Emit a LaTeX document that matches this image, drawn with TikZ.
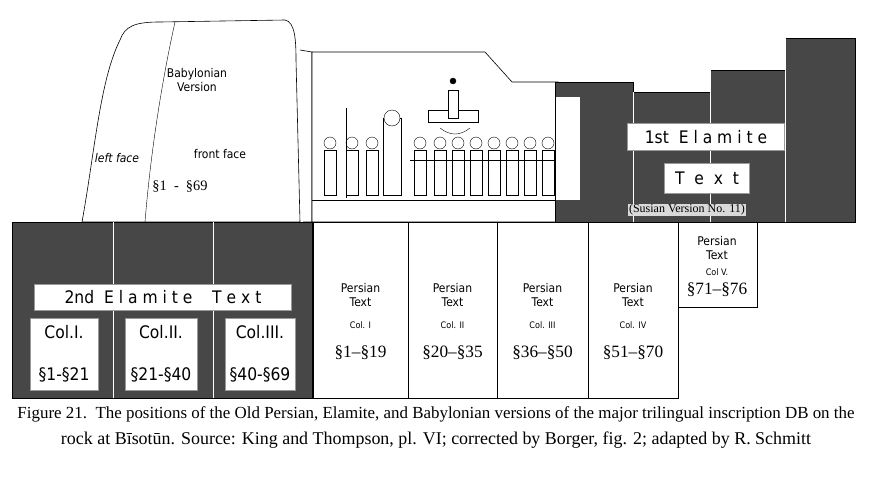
\documentclass[tikz,border=0pt]{standalone}
\usepackage{fontspec}
\setmainfont{Liberation Serif}
\newfontfamily\labfont{DejaVu Sans Condensed}
\usetikzlibrary{positioning}
\tikzset{
  rock/.style = {draw=black, fill=black!72},
  plate/.style = {draw=black, fill=white, line width=0.6pt},
  lab/.style = {font=\labfont\large, align=center, inner sep=1pt},
  bigbox/.style = {fill=white, draw=black!40, font=\labfont\LARGE, inner sep=0pt},
  colbox/.style = {fill=white, draw=black!40, font=\labfont\LARGE, inner sep=0pt, align=center},
  person/.style = {draw=black, fill=white, line width=0.4pt}
}
\begin{document}
\begin{tikzpicture}[x=1pt,y=-1pt]
\useasboundingbox (0,0) rectangle (871,482);
% Babylonian rock
\draw[plate] (82,222) .. controls (95,150) and (100,80) .. (120,40)
  .. controls (125,26) and (135,22) .. (160,22) -- (285,20)
  .. controls (295,22) and (296,40) .. (296,60) -- (300,222) -- cycle;
\draw (175,22) .. controls (160,90) and (150,160) .. (145,222);
\draw[plate] (300,50) -- (312,52) -- (312,222) -- (303,222);
\node[lab] (bab) at (197,80) {Babylonian\\Version};
\node[lab, font=\labfont\large\itshape] (lf) at (117,158) {left face};
\node[lab] (ff) at (220,154) {front face};
\node[font=\Large] (bpar) at (180,187) {\S1\ \ -\ \ \S69};
% relief panel
\draw[plate] (312,52) -- (485,52) -- (512,82) -- (558,82) -- (558,222) -- (312,222) -- cycle;
\draw (312,200) -- (558,200);
\foreach \x in {330,352,372,392,420,440,458,476,494,512,530,548,566} {
  \draw[person] (\x-6,150) rectangle (\x+6,195);
  \draw[person] (\x,143) circle (6);
}
\draw[person] (383,118) rectangle (401,195);
\draw[person] (392,118) circle (8);
\draw (346,108) -- (346,198);
\draw (410,160) -- (570,160);
% winged symbol
\draw[person] (428,110) rectangle (478,122);
\draw[person] (448,90) rectangle (458,118);
\draw[fill=black] (453,81) circle (3);
\draw (440,128) .. controls (450,136) and (460,136) .. (470,128);
% 1st Elamite
\draw[rock] (555,82) -- (633,82) -- (633,92) -- (710,92) -- (710,70) -- (785,70)
  -- (785,38) -- (855,38) -- (855,222) -- (555,222) -- cycle;
\fill[white] (556,97) rectangle (580,200);
\draw[white] (633,92) -- (633,222) (710,70) -- (710,222) (785,38) -- (785,222);
\node[bigbox, minimum width=157pt, minimum height=27pt] (el1) at (706,137)
  {1st\ \ E\ l\ a\ m\ i\ t\ e};
\node[bigbox, minimum width=85pt, minimum height=30pt] (el1t) at (707,178)
  {T\ \ e\ \ x\ \ t};
\node[fill=black!15, inner sep=1pt, font=\large] (sus) at (687,210) {(Susian Version No. 11)};
% 2nd Elamite
\draw[rock] (12,222) rectangle (312,398);
\draw[white] (113,222) -- (113,398) (213,222) -- (213,398);
\node[bigbox, minimum width=257pt, minimum height=26pt] (el2) at (163,297)
  {2nd\ \ E\ l\ a\ m\ i\ t\ e\ \ \ \ T\ e\ x\ t};
\node[colbox, minimum width=68pt, minimum height=72pt] (c1) at (64,354)
  {Col.I.\\[20pt]\S1-\S21};
\node[colbox, minimum width=72pt, minimum height=72pt] (c2) at (161,354)
  {Col.II.\\[20pt]\S21-\S40};
\node[colbox, minimum width=70pt, minimum height=72pt] (c3) at (260,354)
  {Col.III.\\[20pt]\S40-\S69};
% Persian columns
\foreach \xa/\xb/\cn/\pp in {313/408/I/\S1--\S19, 408/497/II/\S20--\S35,
    497/588/III/\S36--\S50, 588/678/IV/\S51--\S70} {
  \draw[plate] (\xa,222) rectangle (\xb,398);
  \node[lab] at ({(\xa+\xb)/2},306) {Persian\\Text\\[8pt]{\small Col. \cn}};
  \node[font=\LARGE] at ({(\xa+\xb)/2},353) {\pp};
}
\draw[plate] (678,222) rectangle (757,307);
\node[lab] (p5) at (717,248) {Persian\\Text};
\node[lab, font=\labfont\small] (p5c) at (717,272) {Col V.};
\node[font=\LARGE] (p5p) at (717,290) {\S71--\S76};
% caption
\node (cap1) at (436,414) {\resizebox{837pt}{!}{Figure 21.\ \ The positions of the Old Persian, Elamite, and Babylonian versions of the major trilingual inscription DB on the}};
\node (cap2) at (436,440) {\resizebox{750pt}{!}{rock at Bīsotūn. Source: King and Thompson, pl. VI; corrected by Borger, fig. 2; adapted by R. Schmitt}};
\end{tikzpicture}
\end{document}
